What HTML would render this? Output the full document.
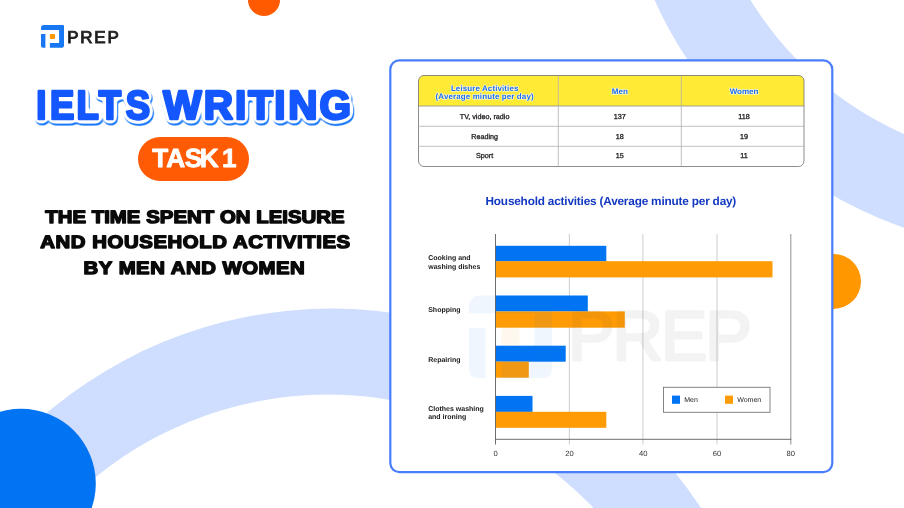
<!DOCTYPE html>
<html lang="en">
<head>
<meta charset="utf-8">
<title>IELTS Writing Task 1 - The time spent on leisure and household activities by men and women</title>
<style>
html,body{margin:0;padding:0;background:#fff;}
body{width:904px;height:508px;overflow:hidden;position:relative;font-family:"Liberation Sans",sans-serif;}
svg{display:block;position:absolute;left:0;top:0;}
text{font-family:"Liberation Sans",sans-serif;text-rendering:geometricPrecision;}
</style>
</head>
<body>
<svg width="904" height="508" viewBox="0 0 904 508">
  <!-- background shapes -->
  <g fill="#cfddfe" fill-rule="evenodd">
    <path d="M-109.7 750.0a441.5 441.5 0 1 0 883.0 0a441.5 441.5 0 1 0 -883.0 0ZM-40.5 762.9a368.3 368.3 0 1 0 736.6 0a368.3 368.3 0 1 0 -736.6 0Z"/>
    <path d="M616.8 -175.3a426.2 426.2 0 1 0 852.5 0a426.2 426.2 0 1 0 -852.5 0ZM699.6 -179.7a343.0 343.0 0 1 0 686.0 0a343.0 343.0 0 1 0 -686.0 0Z"/>
  </g>
  <circle cx="21" cy="483.5" r="74.8" fill="#0074f3"/>
  <circle cx="264" cy="0" r="16" fill="#ff5a00"/>
  <circle cx="833.5" cy="281.4" r="27.5" fill="#ff9700"/>

  <!-- logo -->
  <g id="logo">
    <path d="M41 28 a3 3 0 0 1 3 -3 H63 a1 1 0 0 1 1 1 V45.8 a2 2 0 0 1 -2 2 H49.9 V43.1 H59.1 V30 H41 Z" fill="#1877f2"/>
    <path d="M41 34.1 H45.4 V47.8 H43 a2 2 0 0 1 -2 -2 Z" fill="#1877f2"/>
    <rect x="49.9" y="33.9" width="5.2" height="5.2" rx="1" fill="#ff9800"/>
    <text x="67.2" y="42.8" font-size="17" font-weight="400" fill="#1f1f1f" stroke="#1f1f1f" stroke-width="0.9" textLength="51.6" lengthAdjust="spacing">PREP</text>
  </g>

  <!-- IELTS WRITING -->
  <defs>
    <filter id="hl" x="-5%" y="-30%" width="110%" height="170%" color-interpolation-filters="sRGB">
      <feGaussianBlur in="SourceAlpha" stdDeviation="2.5" result="b"/>
      <feComponentTransfer in="b" result="d"><feFuncA type="linear" slope="12" intercept="-0.6"/></feComponentTransfer>
      <feFlood flood-color="#ffffff"/><feComposite in2="d" operator="in" result="w"/>
      <feOffset in="d" dx="0.7" dy="2.3" result="do"/>
      <feFlood flood-color="#1a7af8"/><feComposite in2="do" operator="in" result="s"/>
      <feMerge><feMergeNode in="s"/><feMergeNode in="w"/><feMergeNode in="SourceGraphic"/></feMerge>
    </filter>
  </defs>
  <g font-size="40.5" font-weight="700" fill="#1457ff" stroke="#1457ff" stroke-width="2.6" stroke-linejoin="round" filter="url(#hl)">
    <text transform="scale(0.9,1)" y="119.1" x="40.3 55.6 85.0 109.6 139.7">IELTS</text>
    <text y="119.1" x="163.2 203.8 235.0 248.2 274.3 288.3 319.6">WRITING</text>
  </g>

  <!-- TASK 1 pill -->
  <rect x="138" y="137" width="111" height="44" rx="22" fill="#ff5b05"/>
  <text x="152.2 166.2 184.8 199.7 219 221.9" y="167.4" font-size="26.2" font-weight="700" fill="#fff" stroke="#fff" stroke-width="0.8" stroke-linejoin="round">TASK 1</text>

  <!-- subtitle -->
  <g transform="scale(1.13,1)" font-size="18" font-weight="700" fill="#0a0a0a" stroke="#0a0a0a" stroke-width="1.4" stroke-linejoin="round">
    <text x="40" y="222.8" textLength="265" lengthAdjust="spacing">THE TIME SPENT ON LEISURE</text>
    <text x="35.6" y="248.3" textLength="274.3" lengthAdjust="spacing">AND HOUSEHOLD ACTIVITIES</text>
    <text x="74" y="273.9" textLength="195.7" lengthAdjust="spacing">BY MEN AND WOMEN</text>
  </g>

  <!-- card -->
  <rect x="390.3" y="60.3" width="442" height="411.8" rx="9" fill="#ffffff" stroke="#4a7dfb" stroke-width="2.2"/>

  <!-- table -->
  <g>
    <path d="M418.5 106 V81 a5.5 5.5 0 0 1 5.500 -5.500 H798.500 a5.500 5.500 0 0 1 5.500 5.500 V106 Z" fill="#ffeb36"/>
    <rect x="418.500" y="75.500" width="385.500" height="91" rx="5.500" fill="none" stroke="#707070" stroke-width="0.8"/>
    <g stroke="#8a8a8a" stroke-width="0.8">
      <line x1="418.500" y1="106" x2="804" y2="106"/>
      <line x1="418.500" y1="126.300" x2="804" y2="126.300" stroke="#b0b0b0"/>
      <line x1="418.500" y1="146.300" x2="804" y2="146.300" stroke="#b0b0b0"/>
      <line x1="558.300" y1="75.500" x2="558.300" y2="166.500" stroke="#b0b0b0"/>
      <line x1="681.300" y1="75.500" x2="681.300" y2="166.500" stroke="#b0b0b0"/>
    </g>
    <g font-size="8" font-weight="700" fill="#1a6ef5" stroke="#ffffff" stroke-width="1.5" stroke-opacity="0.7" paint-order="stroke" stroke-linejoin="round">
      <text x="450.9" y="90.8" textLength="67.500" lengthAdjust="spacing">Leisure Activities</text>
      <text x="435.6" y="99.200" textLength="98" lengthAdjust="spacing">(Average minute per day)</text>
      <text x="619.800" y="94.400" text-anchor="middle">Men</text>
      <text x="744" y="94.400" text-anchor="middle">Women</text>
    </g>
    <g font-size="7.200" font-weight="400" text-anchor="middle" fill="#222" stroke="#222" stroke-width="0.3">
      <text x="484.600" y="119">TV, video, radio</text>
      <text x="484.600" y="138.700">Reading</text>
      <text x="484.600" y="158.400">Sport</text>
      <text x="619.800" y="119">137</text>
      <text x="619.800" y="138.700">18</text>
      <text x="619.800" y="158.400">15</text>
      <text x="744" y="119">118</text>
      <text x="744" y="138.700">19</text>
      <text x="744" y="158.400">11</text>
    </g>
  </g>

  <!-- chart title -->
  <text x="485.500" y="204.800" font-size="11.800" font-weight="700" fill="#1238c2" textLength="250.800" lengthAdjust="spacing">Household activities (Average minute per day)</text>

  <!-- chart -->
  <g>
    <g stroke="#d2d2d2" stroke-width="1.1">
      <line x1="569.400" y1="234" x2="569.400" y2="444.500"/>
      <line x1="642.900" y1="234" x2="642.900" y2="444.500"/>
      <line x1="717" y1="234" x2="717" y2="444.500"/>
      <line x1="790.800" y1="234" x2="790.800" y2="444.500" stroke="#9a9a9a"/>
    </g>
    <!-- legend -->
    <rect x="663.500" y="387.300" width="106.500" height="25" fill="#fff" stroke="#777" stroke-width="0.9"/>
    <rect x="672" y="395.600" width="8" height="8.200" fill="#0074f3"/>
    <rect x="725" y="395.600" width="8" height="8.200" fill="#ff9b05"/>
    <g font-size="7" fill="#222">
      <text x="684.200" y="402.300">Men</text>
      <text x="737.200" y="402.300">Women</text>
    </g>
    <!-- bars -->
    <g fill="#0074f3">
      <rect x="495.500" y="245.800" width="110.800" height="15.600"/>
      <rect x="495.500" y="295.500" width="92.300" height="16"/>
      <rect x="495.500" y="345.700" width="70.200" height="16"/>
      <rect x="495.500" y="395.900" width="37" height="16"/>
    </g>
    <g fill="#ff9b05">
      <rect x="495.500" y="261.200" width="277" height="16.200"/>
      <rect x="495.500" y="311.400" width="129.300" height="16.300"/>
      <rect x="495.500" y="361.600" width="33.300" height="16.100"/>
      <rect x="495.500" y="411.800" width="110.800" height="16"/>
    </g>
    <!-- watermark -->
    <g opacity="0.06">
      <path d="M469 306.500 a11 11 0 0 1 11 -11 H548 a4 4 0 0 1 4 4 V370 a8 8 0 0 1 -8 8 H501.500 V361 H534.500 V313.500 H469 Z" fill="#1877f2"/>
      <path d="M469 328 H485.500 V378 H477 a8 8 0 0 1 -8 -8 Z" fill="#1877f2"/>
      <rect x="501" y="327.500" width="18.500" height="18.500" rx="3" fill="#ff9800"/>
      <text x="568" y="359.500" font-size="70" font-weight="400" fill="#444" stroke="#444" stroke-width="3" stroke-linejoin="round" textLength="184" lengthAdjust="spacing">PREP</text>
    </g>
    <g stroke="#5e5e5e" stroke-width="0.9">
      <line x1="495.500" y1="234" x2="495.500" y2="444.500"/>
      <line x1="495" y1="439.300" x2="791.300" y2="439.300"/>
    </g>
    <g font-size="7" font-weight="700" fill="#1a1a1a">
      <text x="428.200" y="259.700">Cooking and</text>
      <text x="428.200" y="268.900">washing dishes</text>
      <text x="428.200" y="311.500">Shopping</text>
      <text x="428.200" y="361.700">Repairing</text>
      <text x="428.200" y="410.600">Clothes washing</text>
      <text x="428.200" y="419.400">and ironing</text>
    </g>
    <g font-size="7.600" fill="#333" text-anchor="middle">
      <text x="495.500" y="455.800">0</text>
      <text x="569.400" y="455.800">20</text>
      <text x="643.300" y="455.800">40</text>
      <text x="717" y="455.800">60</text>
      <text x="790.800" y="455.800">80</text>
    </g>
  </g>
</svg>
</body>
</html>
